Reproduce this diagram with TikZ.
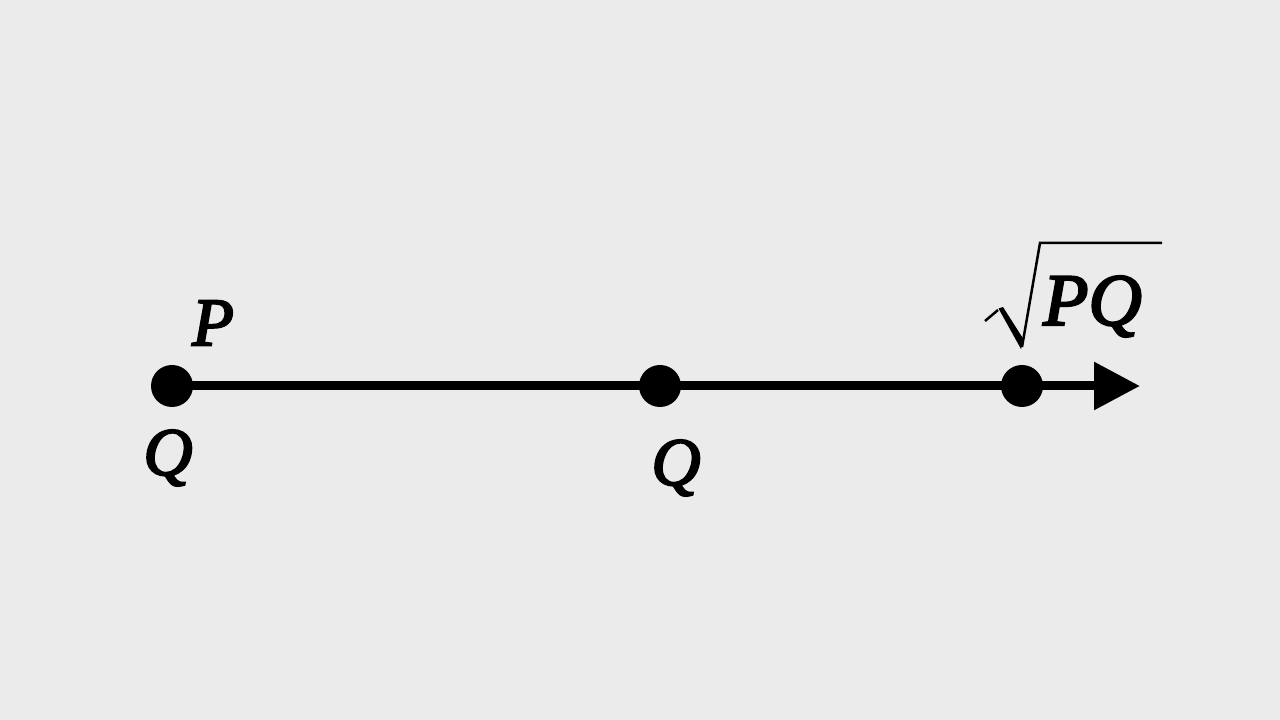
\documentclass[tikz,border=0pt]{standalone}
\usepackage{fontspec}
\setmainfont{Liberation Serif}
\newfontfamily\lblfam{Liberation Serif}[FakeBold=3]
\usetikzlibrary{arrows.meta}
\definecolor{bg}{HTML}{EBEBEB}
\tikzset{
  dot/.style={circle,fill=black,inner sep=0pt,minimum size=42pt},
  lbl/.style={font=\fontsize{68}{72}\selectfont\lblfam\itshape,inner sep=0pt},
  axis/.style={line width=9pt,-{Triangle[length=46pt,width=46pt]}}
}
\begin{document}
\begin{tikzpicture}[x=1pt,y=1pt]
\fill[bg] (0,0) rectangle (1280,720);
\useasboundingbox (0,0) rectangle (1280,720);
\node[dot] (d1) at (172,334) {};
\node[dot] (d2) at (660,334) {};
\node[dot] (d3) at (1022,334) {};
\coordinate (tip) at (1140,334);
\draw[axis] (d1.center) -- (tip);
\node[lbl] (p) at (213,397) {P};
\node[lbl] (q1) at (168,262) {Q};
\node[lbl] (q2) at (676,252) {Q};
\node[lbl,anchor=base west,font=\fontsize{74}{78}\selectfont\lblfam\itshape] (pq) at (1043,395) {PQ};
% radical sign
\coordinate (r1) at (985,399);
\coordinate (r2) at (998,410);
\coordinate (r3) at (1022,373);
\coordinate (r4) at (1040,477);
\coordinate (r5) at (1162,477);
\draw[line width=2.5pt,line join=miter] (r1) -- (r2);
\fill (998.5,411.5) -- (1003,413) -- (1024,380) -- (1021,371) -- cycle;
\draw[line width=2.5pt,line join=miter] (r3) -- (r4) -- (r5);
\end{tikzpicture}
\end{document}
